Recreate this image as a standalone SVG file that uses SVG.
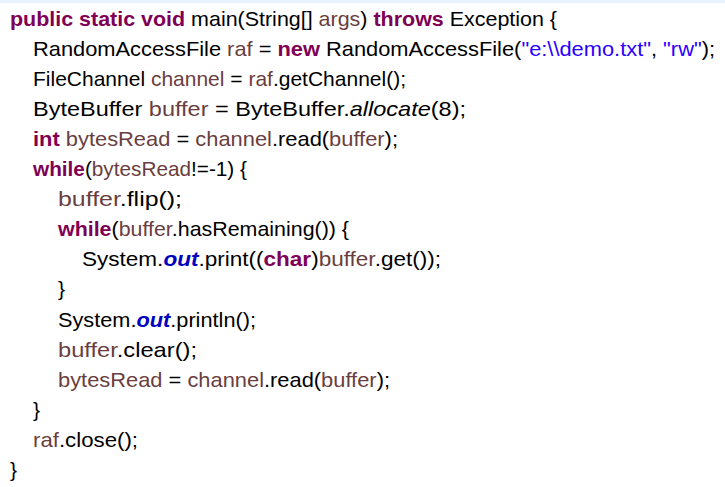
<svg xmlns="http://www.w3.org/2000/svg" width="725" height="487" viewBox="0 0 725 487">
<style>
text{font-family:"Liberation Sans","DejaVu Sans",sans-serif;font-size:21px;fill:#000;white-space:pre}
.k{fill:#7f0055;font-weight:bold}
.v{fill:#6a3e3e}
.s{fill:#2a00ff}
.f{fill:#0000c0;font-style:italic;font-weight:bold}
.i{font-style:italic}
</style>
<rect x="0" y="0" width="725" height="487" fill="#ffffff"/>
<rect x="0" y="0" width="725" height="3" fill="#e8f2fe"/>
<g id="code">
<text x="10" y="26" textLength="547" lengthAdjust="spacingAndGlyphs"><tspan class="k">public static void</tspan> main(String[] <tspan class="v">args</tspan>) <tspan class="k">throws</tspan> Exception {</text>
<text x="33" y="56" textLength="682" lengthAdjust="spacingAndGlyphs">RandomAccessFile <tspan class="v">raf</tspan> = <tspan class="k">new</tspan> RandomAccessFile(<tspan class="s">"e:\\demo.txt"</tspan>, <tspan class="s">"rw"</tspan>);</text>
<text x="33" y="86" textLength="373" lengthAdjust="spacingAndGlyphs">FileChannel <tspan class="v">channel</tspan> = <tspan class="v">raf</tspan>.getChannel();</text>
<text x="33" y="116" textLength="433" lengthAdjust="spacingAndGlyphs">ByteBuffer <tspan class="v">buffer</tspan> = ByteBuffer.<tspan class="i">allocate</tspan>(8);</text>
<text x="33" y="146" textLength="365" lengthAdjust="spacingAndGlyphs"><tspan class="k">int</tspan> <tspan class="v">bytesRead</tspan> = <tspan class="v">channel</tspan>.read(<tspan class="v">buffer</tspan>);</text>
<text x="33" y="176" textLength="214" lengthAdjust="spacingAndGlyphs"><tspan class="k">while</tspan>(<tspan class="v">bytesRead</tspan>!=-1) {</text>
<text x="58" y="206" textLength="124" lengthAdjust="spacingAndGlyphs"><tspan class="v">buffer</tspan>.flip();</text>
<text x="58" y="236" textLength="291" lengthAdjust="spacingAndGlyphs"><tspan class="k">while</tspan>(<tspan class="v">buffer</tspan>.hasRemaining()) {</text>
<text x="82" y="266" textLength="359" lengthAdjust="spacingAndGlyphs">System.<tspan class="f">out</tspan>.print((<tspan class="k">char</tspan>)<tspan class="v">buffer</tspan>.get());</text>
<text x="58" y="296">}</text>
<text x="58" y="327" textLength="198" lengthAdjust="spacingAndGlyphs">System.<tspan class="f">out</tspan>.println();</text>
<text x="58" y="357" textLength="139" lengthAdjust="spacingAndGlyphs"><tspan class="v">buffer</tspan>.clear();</text>
<text x="58" y="387" textLength="332" lengthAdjust="spacingAndGlyphs"><tspan class="v">bytesRead</tspan> = <tspan class="v">channel</tspan>.read(<tspan class="v">buffer</tspan>);</text>
<text x="33" y="417">}</text>
<text x="33" y="447" textLength="105" lengthAdjust="spacingAndGlyphs"><tspan class="v">raf</tspan>.close();</text>
<text x="10" y="477">}</text>
</g>
</svg>
